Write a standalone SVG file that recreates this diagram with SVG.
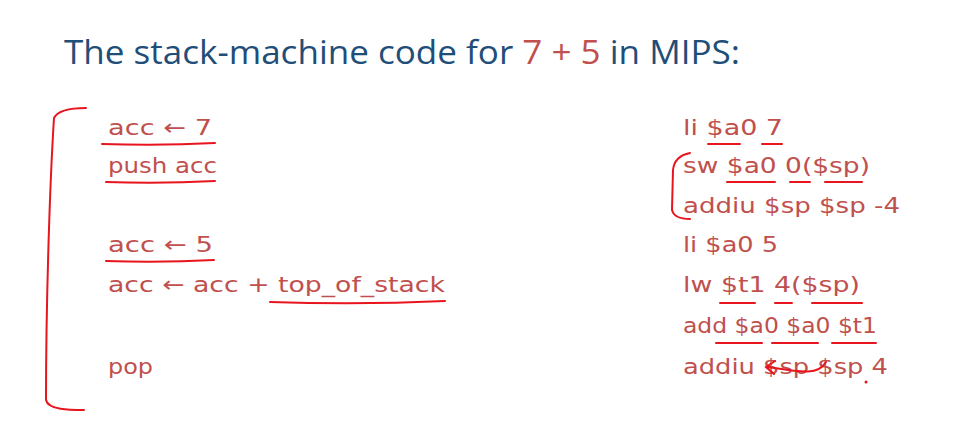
<svg xmlns="http://www.w3.org/2000/svg" width="959" height="428" viewBox="0 0 959 428">
<style>
.t{font-family:"Open Sans","Liberation Sans",sans-serif;font-size:32px;fill:#1f4e79}
.c{font-family:"DejaVu Sans",sans-serif;font-size:22px;fill:#c0504d}
.ink{fill:none;stroke:#e8141e;stroke-width:2;stroke-linecap:round}
</style>
<rect width="959" height="428" fill="#fff"/>
<g id="title"><text class="t" x="64" y="64" textLength="676" lengthAdjust="spacingAndGlyphs">The stack-machine code for <tspan fill="#c0504d">7 + 5</tspan> in MIPS:</text></g>
<g id="left">
<text class="c" x="108" y="135" textLength="104" lengthAdjust="spacingAndGlyphs">acc ← 7</text>
<text class="c" x="108" y="173" textLength="109" lengthAdjust="spacingAndGlyphs">push acc</text>
<text class="c" x="108" y="252" textLength="105" lengthAdjust="spacingAndGlyphs">acc ← 5</text>
<text class="c" x="108" y="292" textLength="337" lengthAdjust="spacingAndGlyphs">acc ← acc + top_of_stack</text>
<text class="c" x="108" y="374" textLength="45" lengthAdjust="spacingAndGlyphs">pop</text>
</g>
<g id="right">
<text class="c" x="683" y="135" textLength="100" lengthAdjust="spacingAndGlyphs">li $a0 7</text>
<text class="c" x="683" y="173" textLength="187" lengthAdjust="spacingAndGlyphs">sw $a0 0($sp)</text>
<text class="c" x="683" y="213" textLength="217" lengthAdjust="spacingAndGlyphs">addiu $sp $sp -4</text>
<text class="c" x="683" y="252" textLength="95" lengthAdjust="spacingAndGlyphs">li $a0 5</text>
<text class="c" x="683" y="292" textLength="177" lengthAdjust="spacingAndGlyphs">lw $t1 4($sp)</text>
<text class="c" x="683" y="333" textLength="194" lengthAdjust="spacingAndGlyphs">add $a0 $a0 $t1</text>
<text class="c" x="683" y="374" textLength="205" lengthAdjust="spacingAndGlyphs">addiu $sp $sp 4</text>
</g>
<g id="annotations">
<path class="ink" d="M86,108 C70,108 58,110 54,118 C50,180 46,300 46,400 C48,410 70,410 84,410"/>
<path class="ink" d="M102,144 Q160,146 215,143"/>
<path class="ink" d="M106,182 Q160,184 215,181"/>
<path class="ink" d="M106,261 Q160,263 214,260"/>
<path class="ink" d="M270,302 Q360,305 445,301"/>
<path class="ink" d="M708,144 L740,144 M762,144 L782,144"/>
<path class="ink" d="M690,153 C680,155 674,160 673,170 L672,210 C674,217 680,219 690,219"/>
<path class="ink" d="M727,182 L775,182 M790,182 L810,182 M825,182 L862,182"/>
<path class="ink" d="M720,303 L755,303 M775,303 L792,303 M812,303 L862,303"/>
<path class="ink" d="M716,343 L762,343 M772,343 L818,343 M832,343 L876,343"/>
<path class="ink" d="M826,362 C818,376 800,372 768,367 M775,361 L766,367 L774,374"/>
<circle cx="866" cy="382" r="1.5" fill="#e8141e"/>
</g>
</svg>
